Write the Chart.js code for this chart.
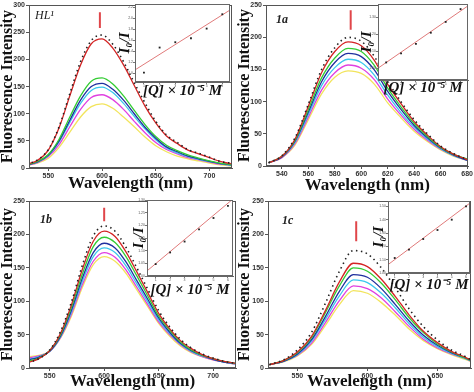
<!DOCTYPE html>
<html lang="en">
<head>
  <meta charset="utf-8">
  <title>Fluorescence quenching spectra</title>
  <script src="https://cdn.jsdelivr.net/npm/chart.js"></script>
  <style>
    body { margin: 0; background: #fff; }
    #fig { position: relative; width: 474px; height: 392px; overflow: hidden; }
    #fig canvas { position: absolute; }
  </style>
</head>
<body>
  <div id="fig">
    <canvas id="pHL1" width="237" height="196" style="left:0;top:0"></canvas>
    <canvas id="p1a" width="237" height="196" style="left:237px;top:0"></canvas>
    <canvas id="p1b" width="237" height="196" style="left:0;top:196px"></canvas>
    <canvas id="p1c" width="237" height="196" style="left:237px;top:196px"></canvas>
    <canvas id="iHL1" width="121" height="102" style="left:113px;top:0"></canvas>
    <canvas id="i1a" width="116" height="100" style="left:356px;top:0"></canvas>
    <canvas id="i1b" width="112" height="104" style="left:125px;top:196px"></canvas>
    <canvas id="i1c" width="108" height="104" style="left:366px;top:196px"></canvas>
  </div>

  <script>
    // curve order in every panel: dotted (free ligand), red, green, blue, cyan, magenta, yellow
    const curveColors = ['#222222', '#d42424', '#33cc33', '#1f2f9e', '#3cc8ee', '#e040e0', '#f2e45c'];

    // HL1 panel
    const wlHL1 = [530, 540, 550, 560, 570, 580, 590, 600, 610, 620, 630, 640, 650, 660, 670, 680, 690, 700, 710, 720];
    const curvesHL1 = [
      [7, 15, 34, 76, 137, 196, 235, 245, 228, 196, 157, 120, 86, 61, 47, 34, 27, 20, 12, 9],
      [7, 14, 33, 74, 133, 190, 229, 238, 221, 190, 152, 114, 83, 59, 45, 33, 26, 19, 12, 8],
      [6, 12, 25, 53, 94, 133, 160, 166, 155, 133, 106, 80, 58, 42, 32, 24, 18, 13, 9, 6],
      [6, 11, 24, 50, 88, 125, 150, 156, 145, 125, 100, 75, 55, 39, 30, 22, 17, 12, 8, 6],
      [6, 11, 23, 48, 84, 119, 143, 149, 139, 119, 95, 72, 52, 37, 28, 21, 16, 12, 8, 5],
      [5, 10, 21, 43, 76, 108, 130, 135, 126, 108, 86, 65, 47, 34, 26, 19, 15, 11, 7, 5],
      [5, 9, 18, 38, 66, 94, 113, 118, 110, 94, 76, 57, 41, 30, 22, 17, 13, 9, 6, 4]
    ];
    const concHL1 = [1, 2, 3, 4, 5, 6];
    const ratioHL1 = [1.012, 1.467, 1.564, 1.636, 1.812, 2.073];
    const fitHL1 = [[0.43, 1.06], [6.49, 2.15]];

    // 1a panel
    const wl1a = [530, 540, 550, 560, 570, 580, 590, 600, 610, 620, 630, 640, 650, 660, 670, 680];
    const curves1a = [
      [5, 16, 44, 96, 150, 184, 200, 194, 170, 132, 100, 72, 50, 31, 19, 10],
      [5, 15, 42, 93, 145, 178, 193, 187, 164, 127, 97, 69, 48, 30, 18, 10],
      [5, 15, 40, 88, 137, 168, 183, 178, 156, 121, 92, 66, 46, 29, 18, 11],
      [5, 14, 39, 84, 131, 161, 175, 170, 149, 116, 88, 63, 44, 28, 17, 9],
      [5, 14, 37, 80, 125, 153, 166, 161, 141, 110, 83, 60, 42, 27, 16, 9],
      [5, 13, 35, 76, 118, 145, 157, 152, 134, 104, 79, 57, 40, 26, 16, 9],
      [5, 13, 33, 72, 112, 138, 148, 144, 127, 98, 75, 54, 38, 25, 15, 9]
    ];
    const conc1a = [1, 2, 3, 4, 5, 6];
    const ratio1a = [1.034, 1.088, 1.144, 1.210, 1.274, 1.350];
    const fit1a = [[0.45, 1.0], [6.5, 1.369]];

    // 1b panel
    const wl1b = [530, 540, 550, 560, 570, 580, 590, 600, 610, 620, 630, 640, 650, 660, 670, 680, 690, 700, 710, 720];
    const curves1b = [
      [8, 14, 27, 55, 99, 154, 198, 213, 205, 181, 150, 118, 86, 62, 43, 30, 21, 15, 10, 7],
      [8, 14, 26, 52, 95, 148, 190, 205, 197, 174, 144, 113, 82, 59, 41, 29, 20, 14, 10, 7],
      [10, 15, 26, 50, 91, 141, 182, 196, 188, 167, 138, 108, 78, 57, 39, 27, 19, 14, 10, 7],
      [12, 16, 25, 48, 87, 135, 173, 187, 180, 159, 131, 103, 75, 54, 37, 26, 19, 13, 9, 7],
      [13, 17, 25, 47, 84, 130, 167, 180, 173, 153, 126, 99, 72, 52, 36, 25, 18, 13, 9, 6],
      [15, 18, 25, 46, 81, 125, 160, 173, 166, 147, 121, 95, 69, 50, 35, 24, 17, 12, 9, 6],
      [17, 19, 25, 45, 78, 121, 155, 167, 160, 142, 117, 92, 67, 48, 33, 23, 17, 12, 9, 6]
    ];
    const conc1b = [1, 2, 3, 4, 5, 6];
    const ratio1b = [1.047, 1.093, 1.136, 1.184, 1.229, 1.277];
    const fit1b = [[0.4, 1.02], [6.35, 1.304]];

    // 1c panel
    const wl1c = [530, 540, 550, 560, 570, 580, 590, 600, 610, 620, 630, 640, 650, 660, 670, 675];
    const curves1c = [
      [5, 12, 27, 53, 97, 145, 176, 171, 150, 120, 88, 62, 42, 27, 17, 11],
      [5, 11, 24, 47, 86, 129, 157, 152, 133, 107, 79, 55, 38, 25, 16, 11],
      [5, 11, 23, 45, 83, 123, 150, 145, 127, 102, 75, 53, 36, 24, 15, 10],
      [5, 10, 21, 42, 77, 115, 140, 136, 119, 95, 70, 49, 34, 23, 15, 10],
      [5, 10, 20, 40, 73, 108, 132, 128, 112, 90, 66, 46, 32, 22, 14, 10],
      [5, 10, 19, 37, 68, 101, 123, 119, 105, 84, 62, 43, 30, 21, 14, 9],
      [5, 9, 18, 35, 64, 95, 116, 112, 98, 79, 58, 41, 29, 20, 13, 9]
    ];
    const conc1c = [1, 2, 3, 4, 5, 6];
    const ratio1c = [1.1125, 1.175, 1.255, 1.3225, 1.40, 1.50];
    const fit1c = [[0.53, 1.0625], [6.28, 1.525]];

    // red arrows above the peaks: [x, yTop, yBottom]
    const arrowHL1 = [598, 287, 258];
    const arrow1a = [592, 242, 212];
    const arrow1b = [600, 240, 220];
    const arrow1c = [592, 220, 190];

    Chart.defaults.font.family = "'Liberation Sans', Arial, sans-serif";
    Chart.defaults.animation = false;
    Chart.defaults.devicePixelRatio = 1;

    const serif = "'Liberation Serif', 'Times New Roman', serif";

    const framePlugin = {
      id: 'frame',
      beforeDraw(chart, args, opts) {
        if (!opts.fill) return;
        const a = chart.chartArea, c = chart.ctx;
        c.save();
        c.fillStyle = opts.fill;
        c.fillRect(a.left, a.top, a.right - a.left, a.bottom - a.top);
        c.restore();
      },
      afterDraw(chart, args, opts) {
        const a = chart.chartArea, c = chart.ctx;
        c.save();
        c.strokeStyle = opts.color || '#444';
        c.lineWidth = 1;
        c.strokeRect(Math.round(a.left) + 0.5, Math.round(a.top) + 0.5,
          Math.round(a.right - a.left) - 1, Math.round(a.bottom - a.top) - 1);
        if (opts.tag) {
          c.fillStyle = '#222';
          c.font = opts.tagFont;
          c.textBaseline = 'middle';
          c.fillText(opts.tag, a.left + opts.tagX, a.top + opts.tagY);
        }
        c.restore();
      }
    };

    function mainChart(id, p) {
      const datasets = p.curves.map((vals, i) => ({
        data: p.wl.map((w, k) => ({ x: w, y: vals[k] })),
        borderColor: curveColors[i],
        borderWidth: i === 0 ? 1.6 : 1.3,
        borderDash: i === 0 ? [1.5, 3.5] : [],
        pointRadius: 0,
        fill: false,
        cubicInterpolationMode: 'monotone'
      }));
      datasets.unshift({
        data: [{ x: p.arrow[0], y: p.arrow[1] }, { x: p.arrow[0], y: p.arrow[2] }],
        borderColor: '#e0464a',
        borderWidth: 2,
        pointRadius: 0
      });

      return new Chart(document.getElementById(id), {
        type: 'line',
        data: { datasets },
        plugins: [framePlugin],
        options: {
          responsive: false,
          layout: { padding: { top: p.padTop, right: p.padRight, left: 0, bottom: 0 } },
          plugins: {
            legend: { display: false },
            tooltip: { enabled: false },
            frame: { color: '#555', tag: p.tag, tagFont: p.tagFont, tagX: p.tagX, tagY: p.tagY }
          },
          scales: {
            x: {
              type: 'linear', min: p.xMin, max: p.xMax,
              afterBuildTicks: s => { s.ticks = p.xTicks.map(v => ({ value: v })); },
              afterFit: s => { s.height = p.xHeight; },
              grid: { drawOnChartArea: false, tickLength: 3, color: '#555' },
              border: { color: '#555' },
              ticks: { font: { size: 7, weight: 'bold' }, color: '#333', padding: 1, maxRotation: 0, autoSkip: false },
              title: {
                display: true, text: 'Wavelength (nm)', color: '#111',
                font: { family: serif, size: 17, weight: 'bold', lineHeight: 1 },
                padding: { top: 0, bottom: p.xTitlePad }
              }
            },
            y: {
              min: 0, max: p.yMax,
              afterBuildTicks: s => { s.ticks = p.yTicks.map(v => ({ value: v })); },
              afterFit: s => { s.width = p.yWidth; },
              grid: { drawOnChartArea: false, tickLength: 3, color: '#555' },
              border: { color: '#555' },
              ticks: { font: { size: 7, weight: 'bold' }, color: '#333', padding: 1, autoSkip: false },
              title: {
                display: true, text: 'Fluorescence Intensity', color: '#111',
                font: { family: serif, size: 16, weight: 'bold', lineHeight: 1 },
                padding: { top: 0, bottom: 0 }
              }
            }
          }
        }
      });
    }

    function insetChart(id, p) {
      return new Chart(document.getElementById(id), {
        type: 'scatter',
        data: {
          datasets: [
            {
              data: p.conc.map((c, k) => ({ x: c, y: p.ratio[k] })),
              pointStyle: 'rect', pointRadius: 1.3,
              backgroundColor: '#222', borderColor: '#222', borderWidth: 0
            },
            {
              data: p.fit.map(f => ({ x: f[0], y: f[1] })),
              showLine: true, pointRadius: 0,
              borderColor: '#e07a7a', borderWidth: 1
            }
          ]
        },
        plugins: [framePlugin],
        options: {
          responsive: false,
          layout: { padding: { top: p.padTop, right: p.padRight, left: 0, bottom: 0 } },
          plugins: {
            legend: { display: false },
            tooltip: { enabled: false },
            frame: { color: '#666', fill: '#fff' }
          },
          scales: {
            x: {
              type: 'linear', min: p.xMin, max: p.xMax,
              afterBuildTicks: s => { s.ticks = p.conc.map(v => ({ value: v })); },
              afterFit: s => { s.height = p.xHeight; },
              grid: { drawOnChartArea: false, tickLength: 2, color: '#777' },
              border: { color: '#666' },
              ticks: { font: { size: 3.5 }, color: '#555', padding: 0, maxRotation: 0, autoSkip: false },
              title: {
                display: true, text: '[Q] \u00d7 10\u207b\u2075 M', color: '#111',
                font: { family: serif, size: 15, weight: 'bold', style: 'italic', lineHeight: 1 },
                padding: { top: 0, bottom: p.xTitlePad }
              }
            },
            y: {
              min: p.yMin, max: p.yMax,
              afterBuildTicks: s => { s.ticks = p.yTicks.map(v => ({ value: v })); },
              afterFit: s => { s.width = p.yWidth; },
              grid: { drawOnChartArea: false, tickLength: 2, color: '#777' },
              border: { color: '#666' },
              ticks: { font: { size: 3.5 }, color: '#555', padding: 0, autoSkip: false },
              title: {
                display: true, text: 'I\u2080/I', color: '#111',
                font: { family: serif, size: 15, weight: 'bold', style: 'italic', lineHeight: 1 },
                padding: { top: p.yTitlePad, bottom: 0 }
              }
            }
          }
        }
      });
    }

    window.onload = () => {
      mainChart('pHL1', {
        wl: wlHL1, curves: curvesHL1, arrow: arrowHL1,
        xMin: 532, xMax: 721, xTicks: [550, 600, 650, 700],
        yMax: 300, yTicks: [0, 50, 100, 150, 200, 250, 300],
        padTop: 5, padRight: 5, yWidth: 29, xHeight: 28, xTitlePad: 4,
        tag: 'HL\u00b9', tagFont: `italic 12px ${serif}`, tagX: 6, tagY: 11
      });
      mainChart('p1a', {
        wl: wl1a, curves: curves1a, arrow: arrow1a,
        xMin: 528, xMax: 681, xTicks: [540, 560, 580, 600, 620, 640, 660, 680],
        yMax: 250, yTicks: [0, 50, 100, 150, 200, 250],
        padTop: 3, padRight: 5, yWidth: 29, xHeight: 30, xTitlePad: 2,
        tag: '1a', tagFont: `bold italic 12px ${serif}`, tagX: 10, tagY: 15
      });
      mainChart('p1b', {
        wl: wl1b, curves: curves1b, arrow: arrow1b,
        xMin: 531, xMax: 721, xTicks: [550, 600, 650, 700],
        yMax: 250, yTicks: [0, 50, 100, 150, 200, 250],
        padTop: 5, padRight: 1, yWidth: 29, xHeight: 24, xTitlePad: 2,
        tag: '1b', tagFont: `bold italic 12px ${serif}`, tagX: 11, tagY: 19
      });
      mainChart('p1c', {
        wl: wl1c, curves: curves1c, arrow: arrow1c,
        xMin: 529, xMax: 674, xTicks: [550, 600, 650],
        yMax: 250, yTicks: [0, 50, 100, 150, 200, 250],
        padTop: 5, padRight: 3, yWidth: 31, xHeight: 24, xTitlePad: 2,
        tag: '1c', tagFont: `bold italic 12px ${serif}`, tagX: 14, tagY: 20
      });

      insetChart('iHL1', {
        conc: concHL1, ratio: ratioHL1, fit: fitHL1,
        xMin: 0.43, xMax: 6.49, yMin: 0.84, yMax: 2.26, yTicks: [1.0, 1.2, 1.4, 1.6, 1.8, 2.0, 2.2],
        padTop: 4, padRight: 4, yWidth: 22, xHeight: 20, xTitlePad: 3, yTitlePad: 5
      });
      insetChart('i1a', {
        conc: conc1a, ratio: ratio1a, fit: fit1a,
        xMin: 0.45, xMax: 6.5, yMin: 0.93, yMax: 1.38, yTicks: [1.0, 1.1, 1.2, 1.3],
        padTop: 3, padRight: 4, yWidth: 22, xHeight: 20, xTitlePad: 4, yTitlePad: 4
      });
      insetChart('i1b', {
        conc: conc1b, ratio: ratio1b, fit: fit1b,
        xMin: 0.4, xMax: 6.35, yMin: 1.0, yMax: 1.3, yTicks: [1.0, 1.05, 1.1, 1.15, 1.2, 1.25, 1.3],
        padTop: 4, padRight: 4, yWidth: 22, xHeight: 24, xTitlePad: 2, yTitlePad: 7
      });
      insetChart('i1c', {
        conc: conc1c, ratio: ratio1c, fit: fit1c,
        xMin: 0.53, xMax: 6.28, yMin: 1.0, yMax: 1.54, yTicks: [1.0, 1.1, 1.2, 1.3, 1.4, 1.5],
        padTop: 5, padRight: 4, yWidth: 22, xHeight: 27, xTitlePad: 7, yTitlePad: 6
      });
    };
  </script>
</body>
</html>
